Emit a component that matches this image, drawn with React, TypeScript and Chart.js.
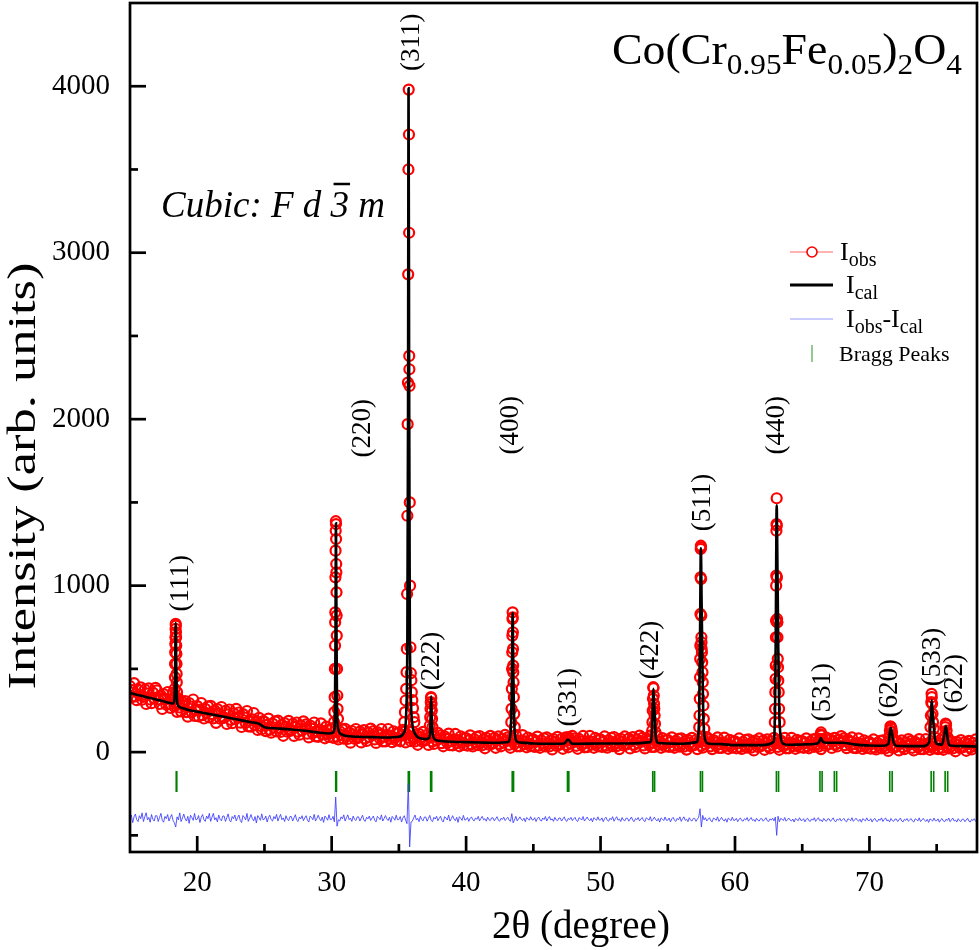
import { useEffect, useRef } from 'react';
import { Chart, registerables } from 'chart.js';
Chart.register(...registerables);

const SERIF = '"Liberation Serif", "Times New Roman", serif';

// ---------- data ----------
const thetaMin = 15;
const thetaMax = 78;
const countsMin = -600;
const countsMax = 4500;

const xTickValues = [20, 30, 40, 50, 60, 70];
const xMinorTicks = [25, 35, 45, 55, 65, 75];
const yTickValues = [0, 1000, 2000, 3000, 4000];
const yMinorTicks = [-500, 500, 1500, 2500, 3500];

// observed background, sampled every 0.1 deg from 15.0 to 78.0
const obsStart = 15;
const obsStep = 0.1;
const obsBackground = [
  396,329,372,415,334,312,375,346,389,315,
  332,376,289,352,383,316,294,357,323,386,
  371,317,289,339,259,348,320,285,361,288,
  266,315,357,275,298,242,323,268,245,300,
  277,307,240,213,295,274,240,316,217,254,
  276,214,255,295,222,202,260,235,275,208,
  278,228,203,249,176,258,232,201,271,204,
  208,248,169,227,256,194,174,233,201,260,
  210,238,177,151,228,208,176,247,155,190,
  153,197,235,162,183,133,206,157,137,186,
  182,126,164,201,134,117,171,148,185,124,
  189,144,121,164,98,174,151,123,188,127,
  132,170,97,152,178,123,105,159,131,185,
  141,167,111,88,159,141,113,178,94,126,
  92,135,173,106,127,83,153,108,91,140,
  137,86,120,153,92,76,125,104,137,81,
  140,99,79,118,57,127,106,80,139,84,
  88,123,58,107,132,82,67,117,91,141,
  101,126,76,55,120,105,80,139,64,94,
  64,104,139,79,99,60,125,85,70,115,
  115,65,99,134,125,58,107,87,121,66,
  124,84,64,102,44,110,90,65,122,68,
  73,104,43,89,111,64,49,94,71,116,
  79,101,54,35,95,80,57,111,42,69,
  40,77,109,54,72,35,94,57,43,85,
  84,39,70,101,47,34,78,60,91,42,
  96,59,41,77,23,86,67,45,98,49,
  53,85,26,71,94,49,35,80,58,103,
  67,89,44,26,85,71,49,103,35,62,
  35,71,102,47,65,29,87,50,36,76,
  76,31,62,93,39,26,70,52,83,34,
  88,52,34,70,16,78,61,38,92,43,
  47,79,20,65,88,43,29,74,52,97,
  61,83,38,20,79,65,43,97,29,57,
  30,66,98,44,62,26,85,49,35,76,
  76,31,62,94,40,27,71,54,85,36,
  90,54,36,72,18,80,63,40,94,45,
  49,81,22,67,90,45,31,76,54,99,
  63,85,40,22,81,67,45,99,31,58,
  31,67,98,44,62,26,84,48,34,74,
  73,31,60,89,38,26,67,50,80,33,
  83,50,33,66,15,74,57,36,86,40,
  44,73,18,60,81,39,27,69,48,90,
  56,77,35,18,72,59,38,88,25,50,
  25,58,87,37,53,20,74,40,27,65,
  65,23,52,82,31,19,61,44,73,27,
  77,44,27,61,10,69,52,31,82,35,
  40,69,14,56,77,35,23,65,44,86,
  52,73,31,14,69,56,35,86,23,48,
  23,57,86,36,53,20,74,41,29,67,
  66,26,54,83,35,23,63,47,76,32,
  80,48,33,65,18,74,58,39,87,44,
  48,76,25,65,86,46,34,75,55,96,
  64,83,42,24,75,62,41,88,26,49,
  24,56,83,35,51,19,70,38,26,61,
  61,21,49,76,28,16,56,40,67,23,
  71,39,23,55,7,63,46,26,74,30,
  34,62,10,50,70,30,18,58,38,78,
  46,66,26,10,62,50,30,78,18,42,
  18,50,78,30,46,14,66,34,22,58,
  58,18,46,74,26,14,54,38,66,22,
  70,38,22,53,5,61,45,25,72,28,
  32,60,8,48,68,28,16,56,36,76,
  40,
];

// observed points on the Bragg reflections [2theta, counts]
const obsPeakPoints: [number, number][] = [
  // (111)
  [18.30,330],[18.32,380],[18.34,450],[18.35,530],[18.36,600],[18.37,650],[18.38,690],[18.39,740],[18.40,770],
  [18.41,760],[18.42,720],[18.43,690],[18.44,640],[18.45,590],[18.46,530],[18.47,470],[18.48,420],[18.50,360],[18.52,320],
  // (220)
  [30.18,180],[30.20,240],[30.22,330],[30.24,500],[30.25,640],[30.26,780],[30.27,840],[30.28,1050],[30.29,1210],[30.30,1330],
  [30.31,1387],[30.32,1370],[30.33,1280],[30.34,1130],[30.35,1080],[30.36,960],[30.37,820],[30.38,700],[30.40,500],[30.42,340],[30.44,260],[30.47,200],
  // (311)
  [35.40,180],[35.45,240],[35.50,310],[35.54,380],[35.57,480],[35.59,620],[35.61,950],[35.63,1420],[35.65,1970],[35.67,2220],
  [35.69,2870],[35.71,3500],[35.73,3980],[35.75,3710],[35.76,3120],[35.77,2380],[35.78,2300],[35.79,2200],[35.81,1500],[35.83,1000],
  [35.86,630],[35.89,474],[35.93,432],[35.96,360],[36.00,312],[36.05,264],[36.10,210],[36.15,180],
  // (222)
  [37.30,160],[37.33,210],[37.35,260],[37.37,300],[37.39,330],[37.41,325],[37.43,290],[37.45,250],[37.47,200],[37.50,150],
  // (400)
  [43.36,180],[43.38,260],[43.40,380],[43.42,500],[43.43,600],[43.44,700],[43.45,800],[43.46,840],[43.47,810],[43.48,720],
  [43.49,620],[43.50,520],[43.51,480],[43.53,420],[43.55,330],[43.58,230],[43.62,150],
  // (331)
  [47.52,70],[47.56,85],[47.60,90],[47.64,75],
  // (422)
  [53.84,130],[53.86,180],[53.88,250],[53.90,320],[53.92,390],[53.94,385],[53.96,340],[53.98,290],[54.00,260],[54.02,220],[54.05,170],[54.08,120],
  // (511)
  [57.34,150],[57.36,220],[57.38,320],[57.40,450],[57.41,560],[57.42,640],[57.43,830],[57.44,1050],[57.45,1220],[57.46,1240],
  [57.47,1230],[57.48,1040],[57.49,820],[57.50,690],[57.51,660],[57.52,620],[57.54,600],[57.56,540],[57.58,480],[57.60,420],
  [57.62,350],[57.65,280],[57.68,200],[57.72,140],
  // (440)
  [62.96,180],[62.98,260],[63.00,360],[63.02,440],[63.03,520],[63.04,690],[63.05,790],[63.06,1000],[63.07,1060],[63.08,1330],
  [63.09,1370],[63.10,1525],[63.11,1360],[63.12,1050],[63.13,800],[63.14,780],[63.15,780],[63.16,690],[63.18,560],[63.20,510],
  [63.22,430],[63.25,360],[63.28,260],[63.32,180],
  // (531)
  [66.32,80],[66.36,105],[66.40,118],[66.44,100],[66.48,78],
  // (620)
  [71.48,95],[71.52,130],[71.56,155],[71.60,150],[71.64,140],[71.68,120],[71.74,85],
  // (533)
  [74.54,150],[74.57,220],[74.60,300],[74.62,350],[74.64,330],[74.66,290],[74.69,230],[74.73,180],[74.78,140],[74.84,90],
  // (622)
  [75.60,100],[75.64,150],[75.67,172],[75.70,165],[75.74,130],[75.80,90],
];

// calculated profile [2theta, counts]
const calcPoints: [number, number][] = [
  [15.0,355],[15.5,345],[16,335],[16.5,325],[17,315],[17.5,305],[18.0,295],[18.2,292],
  [18.27,300],[18.32,350],[18.36,520],[18.40,775],[18.44,540],[18.48,350],[18.53,290],[18.7,270],
  [19,262],[19.5,250],[20,243],[21,228],[22,212],[23,196],[24,180],[24.6,170],[25.0,150],[26,142],[27,136],[28,128],[29,118],[29.8,112],[30.1,118],
  [30.18,130],[30.24,220],[30.28,600],[30.32,1375],[30.36,700],[30.40,260],[30.46,150],[30.7,108],
  [31,98],[32,92],[33,90],[34,88],[35,92],[35.4,120],[35.55,250],
  [35.63,700],[35.68,2000],[35.72,3988],[35.76,2300],[35.81,800],[35.9,300],[36.0,170],[36.2,110],[36.5,85],[37.0,78],[37.25,85],
  [37.32,120],[37.36,220],[37.40,335],[37.44,230],[37.50,120],[37.7,75],
  [38,68],[39,62],[40,60],[41,58],[42,56],[43.1,60],[43.32,130],
  [43.40,420],[43.46,835],[43.52,440],[43.60,140],[43.8,62],
  [44,58],[45,52],[46,50],[47.3,52],[47.58,75],[47.85,52],[48,50],[50,52],[52,52],[53.7,60],[53.83,130],
  [53.88,290],[53.93,380],[53.98,300],[54.03,230],[54.1,100],[54.3,55],
  [55,52],[56,50],[57.15,60],[57.33,200],
  [57.40,700],[57.46,1225],[57.52,880],[57.58,520],[57.64,220],[57.8,70],[58,52],
  [59,48],[60,42],[61,42],[62,42],[62.85,60],[62.98,260],
  [63.04,800],[63.10,1483],[63.16,1080],[63.22,620],[63.29,250],[63.4,90],[63.6,50],
  [64,44],[65,46],[66,50],[66.25,60],[66.38,84],[66.5,66],[66.65,58],
  [67,56],[67.5,56],[68,56],[69,45],[70,40],[71,38],[71.42,50],
  [71.52,120],[71.58,144],[71.66,125],[71.75,72],[71.9,42],
  [72,38],[73,36],[74,36],[74.45,60],
  [74.56,210],[74.63,312],[74.70,240],[74.78,160],[74.87,80],[75.0,50],[75.4,45],[75.56,100],
  [75.68,156],[75.76,120],[75.86,60],[76.0,40],
  [77,36],[78,34],
];

// difference curve (offset), sampled every 0.1 deg from 15.0 to 78.0
const diffStart = 15;
const diffStep = 0.1;
const diffCounts = [
  -403,-378,-424,-389,-372,-406,-417,-382,-400,-365,
  -417,-389,-364,-407,-392,-421,-375,-403,-414,-382,
  -382,-417,-392,-368,-410,-421,-386,-400,-375,-414,
  -393,-375,-410,-424,-450,-389,-407,-365,-417,-396,
  -372,-400,-414,-386,-428,-379,-393,-410,-368,-407,
  -403,-381,-423,-391,-375,-407,-416,-384,-400,-368,
  -416,-391,-368,-407,-394,-419,-378,-403,-413,-384,
  -384,-416,-394,-371,-410,-419,-387,-400,-378,-413,
  -394,-378,-410,-423,-381,-391,-407,-368,-416,-397,
  -375,-400,-413,-387,-426,-381,-394,-410,-371,-407,
  -403,-384,-420,-393,-379,-406,-414,-387,-401,-374,
  -414,-393,-374,-406,-395,-417,-382,-403,-412,-387,
  -387,-414,-395,-376,-409,-417,-390,-401,-382,-412,
  -395,-382,-409,-420,-384,-393,-406,-374,-414,-398,
  -379,-401,-412,-390,-422,-384,-395,-409,-376,-406,
  -404,-386,-419,-270,-445,-406,-414,-389,-401,-377,
  -414,-394,-377,-406,-396,-416,-384,-404,-411,-389,
  -389,-414,-396,-379,-409,-416,-391,-401,-384,-411,
  -396,-384,-409,-419,-386,-394,-406,-377,-414,-399,
  -381,-401,-411,-391,-421,-386,-396,-409,-379,-406,
  -405,-387,-420,-395,-382,-408,-430,-190,-570,-420,
  -415,-395,-378,-408,-398,-418,-385,-405,-413,-390,
  -390,-415,-398,-380,-410,-418,-392,-402,-385,-412,
  -398,-385,-410,-420,-388,-395,-408,-378,-415,-400,
  -382,-402,-412,-392,-422,-388,-398,-410,-380,-408,
  -406,-393,-416,-398,-389,-407,-413,-395,-404,-386,
  -413,-398,-386,-407,-400,-415,-391,-406,-411,-395,
  -395,-413,-400,-388,-409,-415,-397,-404,-391,-411,
  -400,-391,-409,-416,-370,-425,-407,-386,-413,-402,
  -389,-404,-411,-397,-418,-393,-400,-409,-388,-407,
  -407,-394,-417,-399,-390,-408,-414,-396,-405,-387,
  -414,-399,-387,-408,-401,-416,-392,-407,-412,-396,
  -396,-414,-401,-389,-410,-416,-398,-405,-392,-412,
  -401,-392,-410,-417,-394,-399,-408,-387,-414,-403,
  -390,-405,-412,-398,-419,-394,-401,-410,-389,-408,
  -408,-395,-418,-400,-391,-409,-415,-397,-406,-388,
  -415,-400,-388,-409,-402,-417,-393,-408,-413,-397,
  -397,-415,-402,-390,-411,-417,-399,-406,-393,-413,
  -402,-393,-411,-418,-395,-400,-409,-388,-415,-404,
  -391,-406,-413,-399,-420,-395,-402,-411,-390,-409,
  -409,-396,-419,-401,-392,-410,-416,-398,-407,-389,
  -416,-401,-389,-410,-403,-418,-394,-409,-414,-398,
  -398,-416,-403,-391,-340,-450,-380,-407,-394,-414,
  -403,-394,-412,-419,-396,-401,-410,-389,-416,-405,
  -392,-407,-414,-400,-421,-396,-403,-412,-391,-410,
  -409,-398,-418,-403,-396,-411,-415,-400,-408,-393,
  -415,-403,-393,-411,-405,-417,-397,-409,-414,-400,
  -400,-415,-405,-394,-412,-417,-401,-408,-397,-413,
  -390,-500,-385,-418,-398,-403,-411,-393,-415,-406,
  -396,-408,-414,-402,-420,-399,-405,-412,-394,-410,
  -410,-400,-419,-404,-397,-412,-416,-401,-409,-394,
  -416,-404,-394,-412,-406,-418,-398,-410,-415,-401,
  -401,-416,-406,-395,-413,-418,-402,-409,-398,-414,
  -406,-398,-413,-419,-400,-404,-412,-394,-416,-407,
  -397,-409,-415,-403,-421,-400,-406,-413,-395,-411,
  -411,-400,-420,-405,-398,-413,-417,-402,-410,-395,
  -417,-405,-395,-413,-407,-419,-399,-411,-416,-402,
  -402,-417,-407,-396,-414,-419,-403,-410,-399,-415,
  -407,-399,-414,-420,-401,-405,-413,-395,-417,-408,
  -398,-410,-416,-404,-422,-401,-407,-414,-396,-412,
  -412,-401,-421,-406,-399,-414,-418,-403,-411,-396,
  -418,-406,-396,-414,-408,-420,-400,-412,-417,-403,
  -403,-418,-408,-397,-415,-420,-404,-411,-400,-416,
  -410,
];

// Bragg reflection positions (K-alpha1 / K-alpha2)
const braggPositions = [
  18.44, 18.48, 30.30, 30.36, 35.70, 35.78, 37.36, 37.44, 43.43, 43.53, 47.54, 47.64,
  53.88, 54.02, 57.43, 57.58, 63.08, 63.24, 66.32, 66.48, 67.39, 67.56, 71.51, 71.69,
  74.59, 74.78, 75.63, 75.82,
];
const braggTop = -114;
const braggBottom = -240;

// Miller-index annotations
const hklLabels = ['(111)', '(220)', '(311)', '(222)', '(400)', '(331)', '(422)', '(511)', '(440)', '(531)', '(620)', '(533)', '(622)'];
const hklTheta = [18.76, 32.29, 35.97, 37.47, 43.30, 47.68, 53.71, 57.65, 63.15, 66.53, 71.55, 74.71, 76.38];
const hklCounts = [1015, 1946, 4264, 547, 1964, 330, 613, 1500, 1964, 360, 384, 571, 414];

// ---------- drawing helpers ----------
type Seg = { t: string; sub?: boolean };

function richWidth(ctx: CanvasRenderingContext2D, segs: Seg[], main: string, sub: string) {
  let w = 0;
  for (const s of segs) {
    ctx.font = s.sub ? sub : main;
    w += ctx.measureText(s.t).width;
  }
  return w;
}
function drawRich(ctx: CanvasRenderingContext2D, segs: Seg[], x: number, y: number, main: string, sub: string, drop: number) {
  let cx = x;
  for (const s of segs) {
    ctx.font = s.sub ? sub : main;
    ctx.fillText(s.t, cx, s.sub ? y + drop : y);
    cx += ctx.measureText(s.t).width;
  }
}

const decorPlugin = {
  id: 'decor',
  afterDraw(chart: any) {
    const { ctx, chartArea: a, scales } = chart;
    const xs = scales.x;
    const ys = scales.y;
    ctx.save();
    ctx.strokeStyle = '#000';
    ctx.fillStyle = '#000';
    ctx.lineWidth = 2.7;
    ctx.lineCap = 'butt';
    const tick = (x1: number, y1: number, x2: number, y2: number) => {
      ctx.beginPath();
      ctx.moveTo(x1, y1);
      ctx.lineTo(x2, y2);
      ctx.stroke();
    };
    xTickValues.forEach((v) => { const p = xs.getPixelForValue(v); tick(p, a.bottom, p, a.bottom - 16); });
    xMinorTicks.forEach((v) => { const p = xs.getPixelForValue(v); tick(p, a.bottom, p, a.bottom - 8); });
    yTickValues.forEach((v) => { const p = ys.getPixelForValue(v); tick(a.left, p, a.left + 16, p); });
    yMinorTicks.forEach((v) => { const p = ys.getPixelForValue(v); tick(a.left, p, a.left + 8, p); });
    ctx.strokeRect(a.left, a.top, a.right - a.left, a.bottom - a.top);

    // hkl labels
    ctx.font = `27px ${SERIF}`;
    ctx.textAlign = 'center';
    ctx.textBaseline = 'middle';
    hklLabels.forEach((lab, i) => {
      const px = xs.getPixelForValue(hklTheta[i]);
      const py = ys.getPixelForValue(hklCounts[i]);
      ctx.save();
      ctx.translate(px, py);
      ctx.rotate(-Math.PI / 2);
      ctx.fillText(lab, 0, 0);
      ctx.restore();
    });

    // axis titles
    ctx.font = `39px ${SERIF}`;
    ctx.textAlign = 'center';
    ctx.textBaseline = 'alphabetic';
    ctx.fillText('2θ (degree)', 581, 938);

    ctx.save();
    ctx.translate(24, 476);
    ctx.rotate(-Math.PI / 2);
    ctx.font = `40px ${SERIF}`;
    ctx.textBaseline = 'middle';
    const yt = 'Intensity (arb. units)';
    const ytw = ctx.measureText(yt).width;
    ctx.scale(427 / ytw, 1);
    ctx.fillText(yt, 0, 0);
    ctx.restore();

    // space group
    ctx.textAlign = 'left';
    ctx.textBaseline = 'alphabetic';
    ctx.font = `italic 37px ${SERIF}`;
    let cx = 161;
    const by = 217;
    const p1 = 'Cubic: F d ';
    ctx.fillText(p1, cx, by);
    cx += ctx.measureText(p1).width;
    const w3 = ctx.measureText('3').width;
    ctx.fillText('3', cx, by);
    ctx.lineWidth = 2.5;
    ctx.beginPath();
    ctx.moveTo(cx + 3, by - 33);
    ctx.lineTo(cx + w3 + 1, by - 33);
    ctx.stroke();
    cx += w3;
    ctx.fillText(' m', cx, by);

    // compound formula
    const titleSegs: Seg[] = [
      { t: 'Co(Cr' }, { t: '0.95', sub: true }, { t: 'Fe' }, { t: '0.05', sub: true },
      { t: ')' }, { t: '2', sub: true }, { t: 'O' }, { t: '4', sub: true },
    ];
    const tMain = `44px ${SERIF}`;
    const tSub = `30px ${SERIF}`;
    const tw = richWidth(ctx, titleSegs, tMain, tSub);
    ctx.save();
    ctx.translate(612, 64);
    ctx.scale(350 / tw, 1);
    drawRich(ctx, titleSegs, 0, 0, tMain, tSub, 10);
    ctx.restore();

    // legend
    const lMain = `26px ${SERIF}`;
    const lSub = `20px ${SERIF}`;
    ctx.strokeStyle = 'rgba(255,0,0,0.6)';
    ctx.lineWidth = 1;
    tick(790, 252, 833, 252);
    ctx.beginPath();
    ctx.arc(812, 252, 5, 0, Math.PI * 2);
    ctx.fillStyle = '#fff';
    ctx.fill();
    ctx.strokeStyle = '#ff0000';
    ctx.lineWidth = 1.6;
    ctx.stroke();
    ctx.fillStyle = '#000';
    drawRich(ctx, [{ t: 'I' }, { t: 'obs', sub: true }], 840, 260, lMain, lSub, 6);
    ctx.strokeStyle = '#000';
    ctx.lineWidth = 3;
    tick(790, 285, 833, 285);
    drawRich(ctx, [{ t: 'I' }, { t: 'cal', sub: true }], 846, 293, lMain, lSub, 6);
    ctx.strokeStyle = '#9a9aff';
    ctx.lineWidth = 1;
    tick(790, 319, 833, 319);
    drawRich(ctx, [{ t: 'I' }, { t: 'obs', sub: true }, { t: '-I' }, { t: 'cal', sub: true }], 846, 327, lMain, lSub, 6);
    ctx.strokeStyle = '#6fb86f';
    ctx.lineWidth = 1.5;
    tick(812, 345, 812, 362);
    ctx.font = `22px ${SERIF}`;
    ctx.fillText('Bragg Peaks', 839, 361);

    ctx.restore();
  },
};

export default function App() {
  const ref = useRef<HTMLCanvasElement>(null);
  useEffect(() => {
    const canvas = ref.current;
    if (!canvas) return;
    const obsData = [
      ...obsBackground.map((v, i) => ({ x: +(obsStart + i * obsStep).toFixed(2), y: v })),
      ...obsPeakPoints.map(([x, y]) => ({ x, y })),
    ];
    const calcData = calcPoints.map(([x, y]) => ({ x, y }));
    const diffData = diffCounts.map((v, i) => ({ x: +(diffStart + i * diffStep).toFixed(2), y: v }));
    const braggData: any[] = [];
    braggPositions.forEach((p) => {
      braggData.push({ x: p, y: braggTop }, { x: p, y: braggBottom }, { x: p, y: null });
    });

    const chart = new Chart(canvas, {
      type: 'scatter',
      data: {
        datasets: [
          { label: 'Ical', type: 'line', data: calcData, borderColor: '#000', borderWidth: 2.6, pointRadius: 0, cubicInterpolationMode: 'monotone', order: 0 } as any,
          { label: 'Iobs-Ical', type: 'line', data: diffData, borderColor: 'rgba(60,60,255,0.85)', borderWidth: 1, pointRadius: 0, order: 1 } as any,
          { label: 'Bragg Peaks', type: 'line', data: braggData, borderColor: '#008000', borderWidth: 1.6, pointRadius: 0, spanGaps: false, order: 2 } as any,
          { label: 'Iobs', type: 'scatter', data: obsData, borderColor: '#ff0000', backgroundColor: 'rgba(0,0,0,0)', pointRadius: 5, borderWidth: 2.2, order: 3 } as any,
        ],
      },
      options: {
        responsive: false,
        animation: false,
        devicePixelRatio: 1,
        events: [],
        layout: { autoPadding: false, padding: { top: 3, right: 3, left: 0, bottom: 0 } },
        plugins: { legend: { display: false }, tooltip: { enabled: false } },
        scales: {
          x: {
            type: 'linear',
            min: thetaMin,
            max: thetaMax,
            grid: { display: false, drawTicks: false },
            border: { display: false },
            ticks: { font: { family: SERIF, size: 29 }, color: '#000', padding: 14, callback: (v: any) => String(v) },
            afterBuildTicks: (s: any) => { s.ticks = xTickValues.map((v) => ({ value: v })); },
            afterFit: (s: any) => { s.height = 98; s.paddingLeft = 0; s.paddingRight = 0; },
          },
          y: {
            type: 'linear',
            min: countsMin,
            max: countsMax,
            grid: { display: false, drawTicks: false },
            border: { display: false },
            ticks: { font: { family: SERIF, size: 29 }, color: '#000', padding: 20, callback: (v: any) => String(v) },
            afterBuildTicks: (s: any) => { s.ticks = yTickValues.map((v) => ({ value: v })); },
            afterFit: (s: any) => { s.width = 130; s.paddingTop = 0; s.paddingBottom = 0; },
          },
        },
      } as any,
      plugins: [decorPlugin],
    });
    return () => chart.destroy();
  }, []);
  return (
    <div style={{ position: 'absolute', left: 0, top: 0, width: 980, height: 950, background: '#fff' }}>
      <canvas ref={ref} width={980} height={950} style={{ display: 'block' }} />
    </div>
  );
}
